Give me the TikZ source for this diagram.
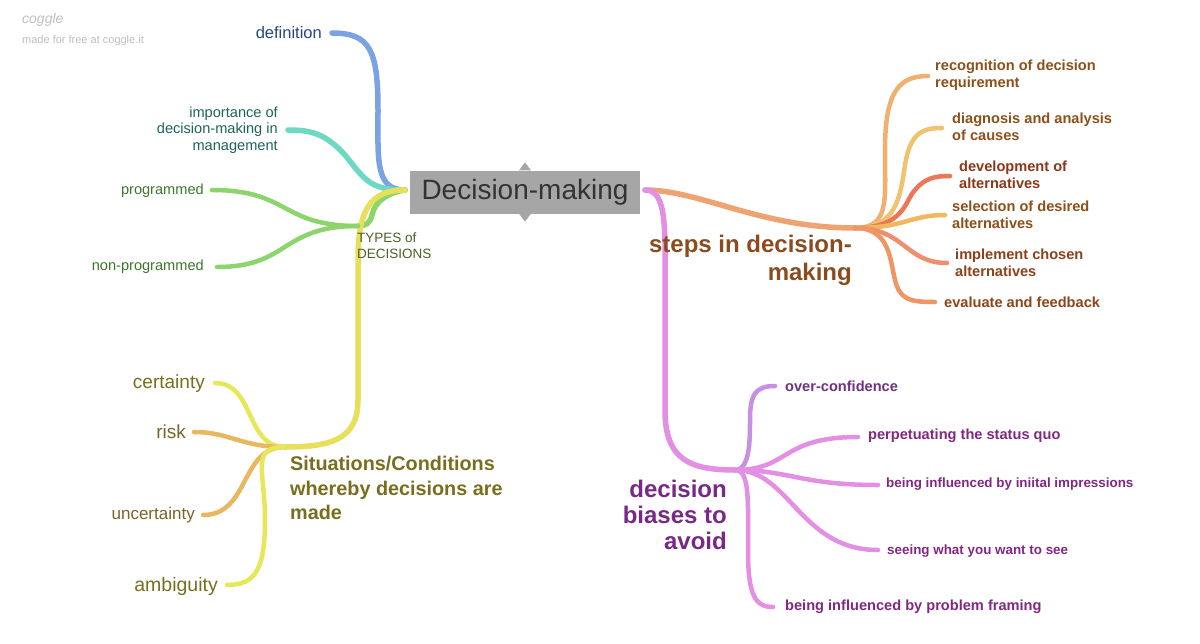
\documentclass[tikz,border=0pt]{standalone}
\usepackage{fontspec}
\setmainfont{Liberation Sans}
\begin{document}
\begin{tikzpicture}[x=1pt,y=-1pt,
 br/.style={line width=5.5pt,line cap=round},
 sb/.style={line width=4.5pt,line cap=round},
 lab/.style={inner sep=0pt,font=\fontsize{14.6}{16.5}\selectfont},
 blab/.style={inner sep=0pt,font=\fontsize{14.6}{16.5}\selectfont\bfseries}]
\useasboundingbox[fill=white] (0,0) rectangle (1200,643);
\definecolor{cblue}{HTML}{7BA3E2}\definecolor{cteal}{HTML}{6DD9C3}
\definecolor{cgreen}{HTML}{8CD46C}\definecolor{cyel}{HTML}{E8E05A}
\definecolor{corg}{HTML}{EEA372}\definecolor{cvio}{HTML}{E28FE4}
\node[anchor=west,inner sep=0pt,text=black!25,font=\itshape\fontsize{14}{14}\selectfont] (logo) at (22,20) {coggle};
\node[anchor=west,inner sep=0pt,text=black!25,font=\fontsize{11}{12}\selectfont] (made) at (22,41) {made for free at coggle.it};
% hubs
\coordinate (L) at (405,190); \coordinate (R) at (645,190);
\coordinate (T) at (358,226); \coordinate (S) at (285,447);
\coordinate (P) at (855,228); \coordinate (B) at (735,470);
% main branches
\draw[br,cblue] (L) .. controls (375,190) and (378,160) .. (378,110) .. controls (378,50) and (370,33) .. (332,33) coordinate (def);
\draw[br,cteal] (L) .. controls (370,190) and (365,180) .. (345,155) .. controls (325,133) and (310,130) .. (288,130) coordinate (imp);
\draw[br,cgreen] (L) .. controls (390,192) and (375,200) .. (372,215) .. controls (370,224) and (365,226) .. (T);
\draw[br,cyel] (L) .. controls (370,190) and (358,210) .. (358,260) -- (358,400) .. controls (358,440) and (330,447) .. (S);
\draw[br,corg] (R) .. controls (700,190) and (760,228) .. (P);
\draw[br,cvio] (R) .. controls (668,190) and (665,230) .. (665,300) -- (665,410) .. controls (665,460) and (690,470) .. (B);
% green children
\draw[sb,cgreen] (T) .. controls (280,226) and (290,190) .. (212,190) coordinate (prog);
\draw[sb,cgreen] (T) .. controls (280,226) and (290,267) .. (217,267) coordinate (nprog);
% situation children
\definecolor{cy1}{HTML}{E6E85A}\definecolor{co1}{HTML}{E8B860}
\draw[sb,cy1] (S) .. controls (245,447) and (255,383) .. (215,383) coordinate (cert);
\draw[sb,co1] (S) .. controls (240,447) and (230,432) .. (194,432) coordinate (risk);
\draw[sb,co1] (S) .. controls (240,447) and (250,515) .. (203,515) coordinate (unc);
\draw[sb,cy1] (S) .. controls (250,447) and (265,470) .. (265,520) .. controls (265,570) and (255,585) .. (227,585) coordinate (amb);
% steps children
\draw[sb,color={rgb,255:red,240;green,176;blue,112}] (P) .. controls (890,228) and (885,200) .. (885,150) .. controls (885,90) and (900,76) .. (928,76) coordinate (s1);
\draw[sb,color={rgb,255:red,240;green,195;blue,112}] (P) .. controls (895,228) and (900,200) .. (905,165) .. controls (910,135) and (920,128) .. (942,128) coordinate (s2);
\draw[sb,color={rgb,255:red,236;green,118;blue,86}] (P) .. controls (905,228) and (905,200) .. (915,190) .. controls (925,178) and (935,176) .. (950,176) coordinate (s3);
\draw[sb,color={rgb,255:red,240;green,184;blue,96}] (P) .. controls (905,228) and (910,215) .. (945,215) coordinate (s4);
\draw[sb,color={rgb,255:red,238;green,144;blue,112}] (P) .. controls (905,228) and (905,263) .. (947,263) coordinate (s5);
\draw[sb,color={rgb,255:red,238;green,150;blue,100}] (P) .. controls (890,228) and (890,260) .. (895,280) .. controls (900,300) and (910,302) .. (935,302) coordinate (s6);
% biases children
\definecolor{cv1}{HTML}{C990E2}\definecolor{cv2}{HTML}{E28FE4}
\draw[sb,cv1] (B) .. controls (750,470) and (750,440) .. (750,420) .. controls (750,395) and (755,386) .. (775,386) coordinate (b1);
\draw[sb,cv2] (B) .. controls (790,470) and (780,437) .. (858,437) coordinate (b2);
\draw[sb,cv2] (B) .. controls (790,470) and (800,485) .. (878,485) coordinate (b3);
\draw[sb,cv2] (B) .. controls (790,470) and (800,550) .. (878,550) coordinate (b4);
\draw[sb,cv2] (B) .. controls (750,470) and (748,500) .. (748,550) .. controls (748,595) and (755,607) .. (773,607) coordinate (b5);
% central node
\node[fill=black!35,minimum width=230pt,minimum height=43pt,inner sep=0pt,text=black!80,font=\fontsize{28}{30}\selectfont] (c) at (525,192) {Decision-making};
\fill[black!35] (c.north) ++(-6,0) -- ++(6,-8) -- ++(6,8) -- cycle;
\fill[black!35] (c.south) ++(-6,0) -- ++(6,8) -- ++(6,-8) -- cycle;
% labels
\node[lab,anchor=east,text={rgb,255:red,40;green,70;blue,130},font=\fontsize{16.5}{18}\selectfont] (tdef) at (322,33) {definition};
\node[lab,anchor=east,align=right,text={rgb,255:red,30;green,100;blue,85}] (timp) at (278,130) {importance of\\decision-making in\\management};
\node[lab,anchor=east,text={rgb,255:red,60;green,120;blue,40}] (tprog) at (204,191) {programmed};
\node[lab,anchor=east,text={rgb,255:red,60;green,120;blue,40}] (tnprog) at (204,267) {non-programmed};
\node[lab,anchor=north west,align=left,text={rgb,255:red,70;green,100;blue,40},font=\fontsize{13.5}{16}\selectfont] (ttyp) at (357,233) {TYPES of\\DECISIONS};
\node[lab,anchor=east,text={rgb,255:red,120;green,110;blue,30},font=\fontsize{19}{20}\selectfont] (tcert) at (205,384) {certainty};
\node[lab,anchor=east,text={rgb,255:red,120;green,100;blue,40},font=\fontsize{19}{20}\selectfont] (trisk) at (186,432) {risk};
\node[lab,anchor=east,text={rgb,255:red,120;green,100;blue,40},font=\fontsize{17}{18}\selectfont] (tunc) at (195,515) {uncertainty};
\node[lab,anchor=east,text={rgb,255:red,120;green,110;blue,30},font=\fontsize{19.5}{20}\selectfont] (tamb) at (218,586) {ambiguity};
\node[lab,anchor=north west,align=left,text={rgb,255:red,120;green,110;blue,30},font=\fontsize{19.8}{24.5}\selectfont\bfseries] (tsit) at (290,456) {Situations/Conditions\\whereby decisions are\\made};
\node[lab,anchor=north east,align=right,text={rgb,255:red,140;green,75;blue,30},font=\fontsize{24}{28}\selectfont\bfseries] (tsteps) at (852,235) {steps in decision-\\making};
\node[blab,anchor=west,align=left,text={rgb,255:red,140;green,80;blue,25}] (ts1) at (935,75) {recognition of decision\\requirement};
\node[blab,anchor=west,align=left,text={rgb,255:red,140;green,80;blue,25}] (ts2) at (952,127) {diagnosis and analysis\\of causes};
\node[blab,anchor=west,align=left,text={rgb,255:red,140;green,55;blue,25}] (ts3) at (959,175) {development of\\alternatives};
\node[blab,anchor=west,align=left,text={rgb,255:red,140;green,80;blue,25}] (ts4) at (952,215) {selection of desired\\alternatives};
\node[blab,anchor=west,align=left,text={rgb,255:red,140;green,65;blue,25}] (ts5) at (955,263) {implement chosen\\alternatives};
\node[blab,anchor=west,text={rgb,255:red,140;green,70;blue,25}] (ts6) at (944,302) {evaluate and feedback};
\node[lab,anchor=north east,align=right,text={rgb,255:red,120;green,40;blue,135},font=\fontsize{24}{26}\selectfont\bfseries] (tbias) at (727,480) {decision\\biases to\\avoid};
\node[blab,anchor=west,text={rgb,255:red,110;green,50;blue,130}] (tb1) at (785,386) {over-confidence};
\node[blab,anchor=west,text={rgb,255:red,130;green,40;blue,130}] (tb2) at (868,436) {perpetuating the status quo};
\node[blab,anchor=west,text={rgb,255:red,130;green,40;blue,130},font=\fontsize{13.4}{15}\selectfont\bfseries] (tb3) at (886,484) {being influenced by iniital impressions};
\node[blab,anchor=west,text={rgb,255:red,130;green,40;blue,130},font=\fontsize{13.4}{15}\selectfont\bfseries] (tb4) at (887,551) {seeing what you want to see};
\node[blab,anchor=west,text={rgb,255:red,130;green,40;blue,130}] (tb5) at (785,607) {being influenced by problem framing};
\end{tikzpicture}
\end{document}
